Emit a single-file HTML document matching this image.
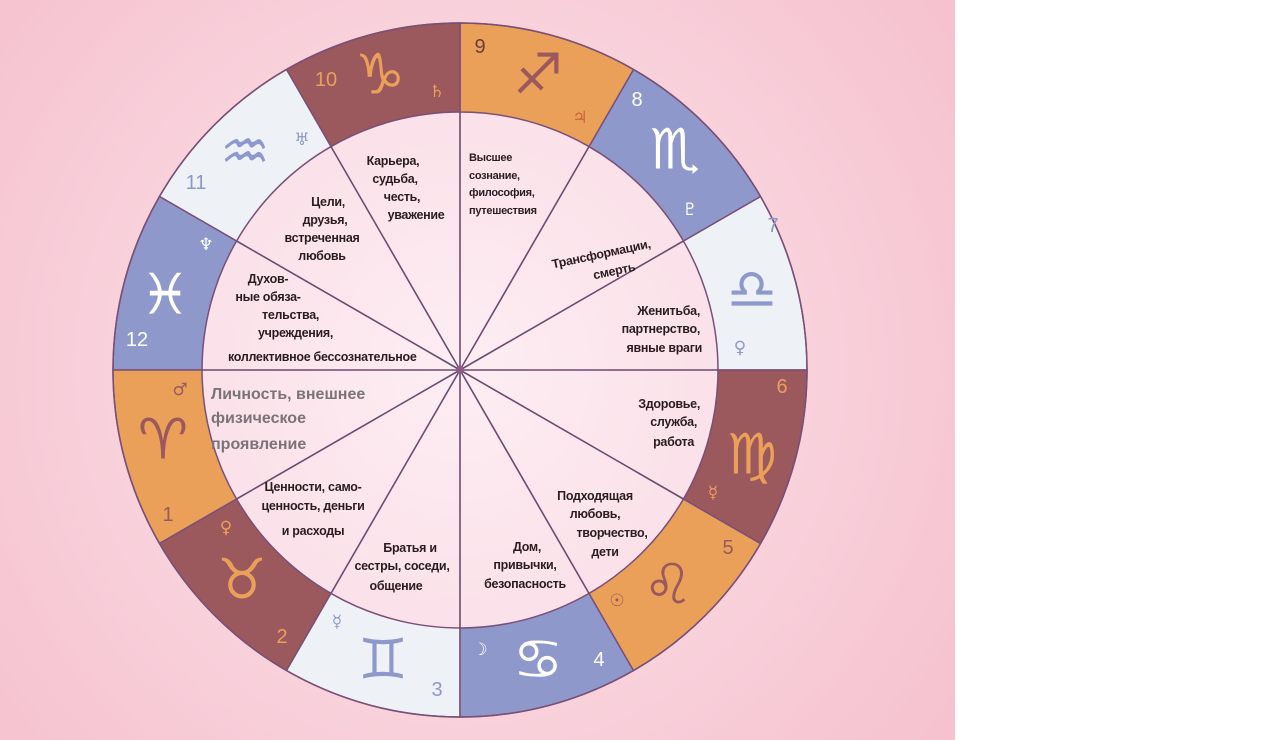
<!DOCTYPE html>
<html><head><meta charset="utf-8"><style>
html,body{margin:0;padding:0;width:1280px;height:740px;background:#fff;overflow:hidden}
svg{display:block}
.t{font-family:"Liberation Sans","DejaVu Sans",sans-serif;font-weight:bold;font-size:12.5px;fill:#2a1d22;letter-spacing:-0.3px}
.s{font-family:"DejaVu Sans",sans-serif;fill:#fff;font-size:56px;text-anchor:middle;dominant-baseline:central}
.n{font-family:"Liberation Sans",sans-serif;font-size:20px;text-anchor:middle;dominant-baseline:central}
.p{font-family:"DejaVu Sans",sans-serif;font-size:17px;text-anchor:middle;dominant-baseline:central}
</style></head><body>
<svg width="1280" height="740" viewBox="0 0 1280 740" xmlns="http://www.w3.org/2000/svg">
<defs>
<radialGradient id="bg" cx="460" cy="370" r="600" gradientUnits="userSpaceOnUse">
<stop offset="0" stop-color="#fbe6ec"/><stop offset="1" stop-color="#f6c2cf"/></radialGradient>
<radialGradient id="in" cx="460" cy="370" r="258" gradientUnits="userSpaceOnUse">
<stop offset="0" stop-color="#fdeef3"/><stop offset="1" stop-color="#fbe1e9"/></radialGradient>
<path id="seg" d="M807,370 A347,347 0 0 0 760.5,196.5 L683.4,241 A258,258 0 0 1 718,370 Z"/>
</defs>
<rect x="0" y="0" width="955" height="740" fill="url(#bg)"/>
<circle cx="460" cy="370" r="258" fill="url(#in)"/>
<g stroke="#7a4f78" stroke-width="1.5">
<use href="#seg" fill="#eef2f7"/>
<use href="#seg" fill="#8e98cb" transform="rotate(-30 460 370)"/>
<use href="#seg" fill="#eba05a" transform="rotate(-60 460 370)"/>
<use href="#seg" fill="#9b585d" transform="rotate(-90 460 370)"/>
<use href="#seg" fill="#eef2f7" transform="rotate(-120 460 370)"/>
<use href="#seg" fill="#8e98cb" transform="rotate(-150 460 370)"/>
<use href="#seg" fill="#eba05a" transform="rotate(-180 460 370)"/>
<use href="#seg" fill="#9b585d" transform="rotate(-210 460 370)"/>
<use href="#seg" fill="#eef2f7" transform="rotate(-240 460 370)"/>
<use href="#seg" fill="#8e98cb" transform="rotate(-270 460 370)"/>
<use href="#seg" fill="#eba05a" transform="rotate(-300 460 370)"/>
<use href="#seg" fill="#9b585d" transform="rotate(-330 460 370)"/>
</g>
<g stroke="#6e4a70" stroke-width="1.6">
<line x1="460" y1="370" x2="718" y2="370"/>
<line x1="460" y1="370" x2="683.4" y2="241"/>
<line x1="460" y1="370" x2="589" y2="146.6"/>
<line x1="460" y1="370" x2="460" y2="112"/>
<line x1="460" y1="370" x2="331" y2="146.6"/>
<line x1="460" y1="370" x2="236.6" y2="241"/>
<line x1="460" y1="370" x2="202" y2="370"/>
<line x1="460" y1="370" x2="236.6" y2="499"/>
<line x1="460" y1="370" x2="331" y2="593.4"/>
<line x1="460" y1="370" x2="460" y2="628"/>
<line x1="460" y1="370" x2="589" y2="593.4"/>
<line x1="460" y1="370" x2="683.4" y2="499"/>
</g>
<circle cx="460" cy="370" r="4" fill="#8a5a88"/>
<circle cx="460" cy="370" r="347" fill="none" stroke="#7a4f78" stroke-width="1.5"/>
<text class="s" x="538" y="75" style="fill:#9b585d">♐</text>
<text class="s" x="380" y="75" style="fill:#eba05a">♑</text>
<text class="s" x="675" y="150">♏</text>
<text class="s" x="752" y="290" style="fill:#8e98cb">♎</text>
<text class="s" x="752" y="455" style="fill:#eba05a">♍</text>
<text class="s" x="668" y="585" style="fill:#9b585d">♌</text>
<text class="s" x="538" y="660">♋</text>
<text class="s" x="383" y="660" style="fill:#8e98cb">♊</text>
<text class="s" x="242" y="580" style="fill:#eba05a">♉</text>
<text class="s" x="163" y="440" style="fill:#9b585d">♈</text>
<text class="s" x="165" y="295">♓</text>
<text class="s" x="245" y="152" style="fill:#8e98cb">♒</text>
<text class="n" x="480" y="47" fill="#6b3e3e">9</text>
<text class="n" x="326" y="80" fill="#eba05a">10</text>
<text class="n" x="637" y="100" fill="#fff">8</text>
<text class="n" x="773" y="226" fill="#8e98cb">7</text>
<text class="n" x="782" y="387" fill="#eba05a">6</text>
<text class="n" x="728" y="548" fill="#9b585d">5</text>
<text class="n" x="599" y="660" fill="#fff">4</text>
<text class="n" x="437" y="690" fill="#8e98cb">3</text>
<text class="n" x="282" y="637" fill="#eba05a">2</text>
<text class="n" x="168" y="515" fill="#9b585d">1</text>
<text class="n" x="137" y="340" fill="#fff">12</text>
<text class="n" x="196" y="183" fill="#8e98cb">11</text>
<text class="p" x="580" y="118" fill="#c8663a">♃</text>
<text class="p" x="437" y="92" fill="#eba05a">♄</text>
<text class="p" x="690" y="210" fill="#fff">♇</text>
<text class="p" x="740" y="348" fill="#8e98cb">♀</text>
<text class="p" x="713" y="493" fill="#eba05a">☿</text>
<text class="p" x="617" y="601" fill="#9b585d">☉</text>
<text class="p" x="480" y="650" fill="#fff">☽</text>
<text class="p" x="337" y="622" fill="#8e98cb">☿</text>
<text class="p" x="226" y="528" fill="#eba05a">♀</text>
<text class="p" x="180" y="390" fill="#9b585d">♂</text>
<text class="p" x="206" y="245" fill="#fff">♆</text>
<text class="p" x="302" y="140" fill="#8e98cb">♅</text>
<g class="t">
<text x="393" y="165" text-anchor="middle">Карьера,</text>
<text x="395" y="183" text-anchor="middle">судьба,</text>
<text x="402" y="201" text-anchor="middle">честь,</text>
<text x="416" y="219" text-anchor="middle">уважение</text>
<text x="469" y="161" font-size="11">Высшее</text>
<text x="469" y="179" font-size="11">сознание,</text>
<text x="469" y="196" font-size="11">философия,</text>
<text x="469" y="214" font-size="11">путешествия</text>
<text x="328" y="206" text-anchor="middle">Цели,</text>
<text x="325" y="224" text-anchor="middle">друзья,</text>
<text x="322" y="242" text-anchor="middle">встреченная</text>
<text x="322" y="260" text-anchor="middle">любовь</text>
<text x="602" y="258" text-anchor="middle" transform="rotate(-12 602 258)">Трансформации,</text>
<text x="615" y="275" text-anchor="middle" transform="rotate(-12 615 275)">смерть</text>
<text x="268" y="283" text-anchor="middle">Духов-</text>
<text x="268" y="301" text-anchor="middle">ные обяза-</text>
<text x="262" y="319">тельства,</text>
<text x="258" y="337">учреждения,</text>
<text x="228" y="361">коллективное бессознательное</text>
<text x="700" y="315" text-anchor="end">Женитьба,</text>
<text x="700" y="333" text-anchor="end">партнерство,</text>
<text x="702" y="352" text-anchor="end">явные враги</text>
<text x="700" y="408" text-anchor="end">Здоровье,</text>
<text x="697" y="426" text-anchor="end">служба,</text>
<text x="694" y="446" text-anchor="end">работа</text>
<text x="595" y="500" text-anchor="middle">Подходящая</text>
<text x="595" y="518" text-anchor="middle">любовь,</text>
<text x="612" y="537" text-anchor="middle">творчество,</text>
<text x="605" y="556" text-anchor="middle">дети</text>
<text x="527" y="551" text-anchor="middle">Дом,</text>
<text x="525" y="569" text-anchor="middle">привычки,</text>
<text x="525" y="588" text-anchor="middle">безопасность</text>
<text x="410" y="552" text-anchor="middle">Братья и</text>
<text x="402" y="570" text-anchor="middle">сестры, соседи,</text>
<text x="396" y="590" text-anchor="middle">общение</text>
<text x="313" y="491" text-anchor="middle">Ценности, само-</text>
<text x="313" y="510" text-anchor="middle">ценность, деньги</text>
<text x="313" y="535" text-anchor="middle">и расходы</text>
</g>
<g style="font-family:'Liberation Sans',sans-serif;font-weight:bold;font-size:16px;fill:#7a7478">
<text x="211" y="399">Личность, внешнее</text>
<text x="211" y="423">физическое</text>
<text x="211" y="449">проявление</text>
</g>
</svg>
</body></html>
